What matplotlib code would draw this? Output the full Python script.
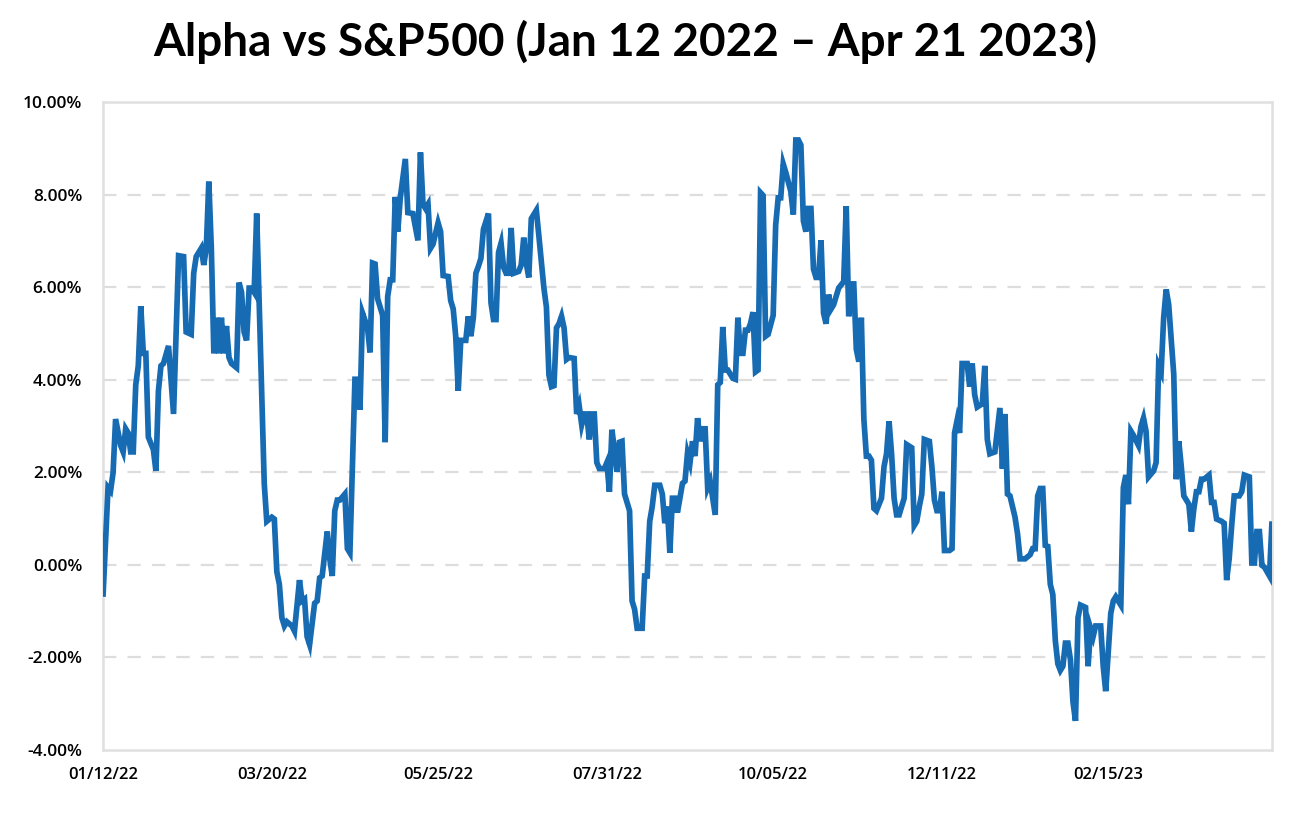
import matplotlib
matplotlib.use("Agg")
import matplotlib.pyplot as plt
import matplotlib.dates as mdates
import matplotlib.ticker as mticker
import pandas as pd

start_date = "2022-01-12"
# days since start date
days = [0, 2, 3, 4, 5, 7, 8, 9, 10, 11, 12, 13, 14, 15, 16, 17, 18, 20, 21, 22,
        23, 24, 26, 28, 30, 32, 33, 35, 36, 37, 39, 40, 41, 42, 43, 44, 45, 46, 47, 48,
        49, 50, 51, 53, 54, 55, 56, 57, 58, 59, 60, 61, 62, 63, 64, 65, 67, 68, 69, 70,
        71, 72, 73, 75, 76, 78, 79, 80, 81, 82, 84, 85, 86, 87, 89, 90, 91, 92, 93, 94,
        96, 97, 98, 100, 101, 102, 103, 105, 106, 107, 108, 109, 111, 112, 113, 114, 115, 116, 117, 118,
        120, 121, 123, 125, 126, 127, 128, 129, 130, 131, 133, 134, 135, 137, 138, 139, 140, 141, 142, 144,
        145, 146, 147, 148, 149, 150, 151, 153, 154, 155, 156, 157, 158, 159, 160, 161, 162, 163, 165, 166,
        167, 168, 169, 170, 172, 173, 175, 176, 177, 178, 179, 180, 181, 182, 183, 184, 185, 187, 188, 189,
        190, 191, 192, 193, 194, 195, 196, 197, 199, 200, 201, 202, 203, 204, 205, 206, 207, 209, 210, 211,
        212, 214, 215, 216, 217, 218, 219, 221, 222, 223, 224, 225, 226, 227, 228, 230, 231, 232, 233, 234,
        235, 236, 237, 238, 239, 240, 241, 243, 244, 245, 246, 247, 248, 250, 251, 252, 253, 254, 255, 256,
        257, 258, 259, 260, 261, 262, 263, 264, 266, 267, 268, 269, 270, 271, 273, 274, 275, 276, 277, 278,
        279, 280, 281, 282, 283, 284, 285, 286, 287, 288, 289, 290, 292, 293, 294, 295, 296, 297, 298, 299,
        300, 301, 302, 303, 304, 305, 306, 307, 309, 310, 311, 312, 313, 314, 315, 316, 318, 319, 321, 322,
        323, 324, 325, 326, 328, 329, 330, 331, 332, 333, 334, 336, 337, 338, 339, 340, 341, 343, 344, 345,
        346, 347, 349, 350, 351, 352, 354, 356, 357, 358, 359, 360, 362, 363, 364, 366, 368, 369, 370, 371,
        372, 373, 374, 375, 376, 377, 378, 379, 380, 381, 382, 383, 384, 385, 386, 387, 388, 390, 391, 392,
        393, 394, 396, 397, 398, 400, 401, 402, 404, 405, 406, 407, 408, 409, 411, 412, 413, 414, 415, 417,
        418, 419, 420, 421, 422, 423, 425, 426, 427, 428, 429, 431, 432, 433, 434, 435, 436, 437, 439, 440,
        441, 442, 444, 445, 446, 447, 448, 449, 451, 452, 453, 455, 456, 457, 458, 459, 460, 461, 463, 464]

alpha = [-0.69, 1.67, 1.60, 1.99, 3.15, 2.58, 2.44, 2.94, 2.85, 2.44, 2.44, 3.89, 4.30, 5.59, 4.57, 4.57, 2.76, 2.49, 2.03, 3.76,
         4.30, 4.35, 4.73, 3.26, 6.68, 6.66, 5.03, 4.98, 6.30, 6.66, 6.84, 6.48, 6.84, 8.28, 6.84, 4.57, 5.34, 4.57, 5.34, 4.57,
         5.16, 4.48, 4.35, 4.26, 6.10, 5.89, 5.03, 4.85, 5.98, 5.98, 5.89, 7.59, 5.66, 3.67, 1.76, 0.94, 1.03, 0.99, -0.15, -0.42,
         -1.14, -1.32, -1.23, -1.32, -1.43, -0.33, -0.78, -0.74, -1.55, -1.72, -0.83, -0.78, -0.28, -0.24, 0.72, 0.13, -0.24, 1.17, 1.40, 1.40,
         1.53, 0.35, 0.26, 4.01, 4.01, 3.35, 5.44, 5.12, 4.59, 6.52, 6.50, 5.75, 5.39, 2.65, 5.80, 6.16, 6.16, 7.95, 7.20, 7.93,
         8.77, 7.61, 7.59, 7.01, 8.91, 7.79, 7.70, 7.79, 6.84, 6.93, 7.39, 7.20, 6.25, 6.23, 5.71, 5.53, 4.94, 3.76, 4.85, 4.85,
         5.37, 4.94, 5.34, 6.30, 6.45, 6.62, 7.25, 7.59, 5.66, 5.30, 5.30, 6.75, 6.95, 6.43, 6.30, 6.30, 7.28, 6.30, 6.34, 6.48,
         7.07, 6.52, 6.21, 7.48, 7.66, 7.11, 5.98, 5.57, 4.10, 3.85, 3.87, 5.12, 5.21, 5.37, 5.12, 4.44, 4.48, 4.46, 3.26, 3.44,
         3.03, 3.26, 3.26, 2.71, 3.26, 3.26, 2.21, 2.08, 2.08, 2.21, 1.58, 2.92, 2.49, 2.01, 2.65, 2.67, 1.53, 1.17, -0.78, -0.96,
         -1.37, -1.37, -0.24, -0.24, 0.94, 1.26, 1.72, 1.72, 1.53, 0.90, 1.26, 0.26, 1.44, 1.44, 1.13, 1.76, 1.81, 2.41, 2.21, 2.67,
         2.35, 3.17, 2.67, 2.94, 2.94, 1.67, 1.81, 1.08, 3.89, 3.94, 5.14, 4.21, 4.21, 4.03, 4.01, 5.34, 4.57, 4.57, 5.07, 5.07,
         5.21, 5.46, 4.17, 4.21, 8.04, 7.98, 4.94, 4.98, 5.39, 7.34, 7.93, 7.93, 8.66, 8.48, 8.07, 7.57, 9.18, 9.18, 9.07, 7.43,
         7.20, 7.70, 7.70, 6.39, 6.21, 6.21, 7.01, 5.44, 5.21, 5.84, 5.53, 5.62, 5.98, 6.05, 6.12, 7.75, 5.37, 6.07, 6.07, 4.66,
         4.39, 5.34, 3.15, 2.35, 2.35, 2.26, 1.22, 1.17, 1.44, 2.12, 2.40, 3.10, 2.40, 1.44, 1.08, 1.08, 1.44, 2.60, 2.53, 0.85,
         0.94, 1.26, 1.53, 2.71, 2.67, 2.12, 1.40, 1.17, 1.17, 1.58, 0.31, 0.31, 0.35, 2.85, 3.12, 2.85, 4.35, 4.35, 3.85, 4.35,
         3.67, 3.41, 3.48, 4.30, 2.71, 2.40, 2.44, 3.39, 2.08, 3.26, 1.53, 1.49, 1.03, 0.67, 0.13, 0.13, 0.22, 0.35, 0.35, 1.49,
         1.65, 1.65, 0.42, 0.40, -0.42, -0.64, -1.64, -2.14, -2.28, -2.19, -1.69, -1.69, -2.05, -2.96, -3.37, -1.14, -0.87, -0.92, -2.19, -1.37,
         -1.55, -1.32, -1.32, -2.19, -2.73, -1.05, -0.78, -0.69, -0.87, 1.67, 1.94, 1.31, 2.89, 2.80, 2.58, 2.99, 3.17, 2.89, 1.90, 2.03,
         2.21, 4.30, 4.17, 5.34, 5.95, 5.62, 4.12, 1.85, 2.67, 2.12, 1.49, 1.31, 0.72, 1.22, 1.58, 1.58, 1.85, 1.85, 1.94, 1.35,
         1.35, 0.99, 0.94, 0.90, -0.33, 0.13, 0.85, 1.49, 1.49, 1.58, 1.94, 1.90, 0.04, 0.04, 0.72, 0.72, -0.01, -0.05, -0.24, 0.94]

tick_dates = ["2022-01-12", "2022-03-20", "2022-05-25", "2022-07-31",
              "2022-10-05", "2022-12-11", "2023-02-15"]
end_date = "2023-04-21"
y_ticks = [-4, -2, 0, 2, 4, 6, 8, 10]
title = "Alpha vs S&P500 (Jan 12 2022 \u2013 Apr 21 2023)"

dates = pd.Timestamp(start_date) + pd.to_timedelta(days, unit="D")

fig = plt.figure(figsize=(12.9, 8.19), dpi=100)
ax = fig.add_axes([103 / 1290, 1 - 750 / 819, (1272 - 103) / 1290, (750 - 102) / 819])

ax.plot(dates, alpha, color="#176BB3", linewidth=4.1, solid_joinstyle="miter",
        solid_capstyle="butt", zorder=3)

ax.set_xlim(pd.Timestamp(start_date), pd.Timestamp(end_date))
ax.set_ylim(-4, 10)
ax.set_yticks(y_ticks)
ax.yaxis.set_major_formatter(mticker.FuncFormatter(lambda v, p: f"{v:.2f}%"))
ax.set_xticks(pd.to_datetime(tick_dates))
ax.xaxis.set_major_formatter(mdates.DateFormatter("%m/%d/%y"))

for yv in y_ticks[1:-1]:
    ax.axhline(yv, color="#DDDDDD", linewidth=1.6, linestyle=(0, (6, 5)), zorder=1)

for s in ax.spines.values():
    s.set_color("#E0E0E0")
    s.set_linewidth(1.8)

ax.tick_params(axis="both", length=0)
ax.tick_params(axis="y", pad=15)
ax.tick_params(axis="x", pad=12)
for lab in ax.get_yticklabels():
    lab.set_fontfamily("Open Sans")
    lab.set_fontweight("semibold")
    lab.set_fontsize(12.5)
for lab in ax.get_xticklabels():
    lab.set_fontfamily("Open Sans")
    lab.set_fontweight("semibold")
    lab.set_fontsize(12)
    lab.set_fontstretch("condensed")

fig.text(625 / 1290, 1 - 42 / 819, title, ha="center", va="center",
         fontsize=33, fontweight="bold", family="Lato")

fig.savefig("out.png", dpi=100)
